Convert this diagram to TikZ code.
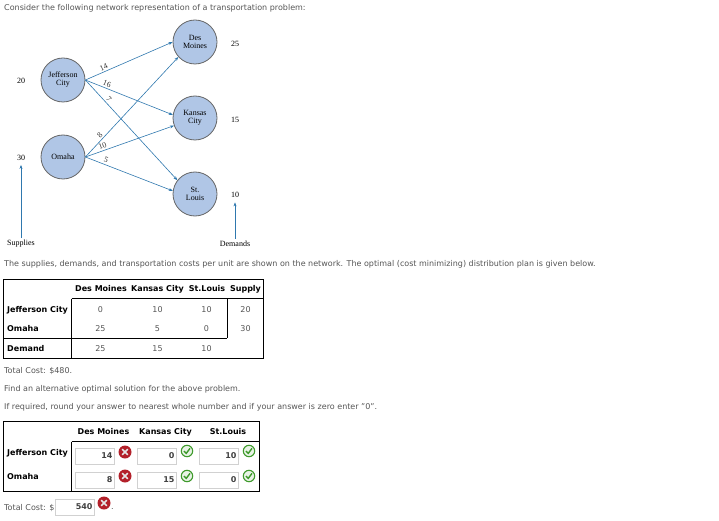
\documentclass[tikz,border=0pt]{standalone}
\usepackage{fontspec}
\usetikzlibrary{arrows.meta}
\setmainfont{DejaVu Sans}
\newfontfamily\netfont{Liberation Serif}
\definecolor{nodeblue}{HTML}{B0C6E6}
\definecolor{arcblue}{HTML}{2F78AE}
\definecolor{bodygrey}{HTML}{555555}
\definecolor{wrongred}{HTML}{B3202A}
\definecolor{rightgreen}{HTML}{3F9A2C}
\tikzset{
  city/.style={circle,draw=black!60,fill=nodeblue,line width=0.8pt,minimum size=44pt,inner sep=0pt,align=center,font=\netfont\fontsize{8}{8}\selectfont},
  amount/.style={font=\netfont\fontsize{8}{9}\selectfont,inner sep=1.5pt},
  route/.style={draw=arcblue,line width=0.6pt,-{Stealth[length=4pt,width=3pt]}},
  pointer/.style={route,shorten >=3pt},
  cost/.style={font=\netfont\fontsize{8}{9}\selectfont,inner sep=1.5pt,text=black!80,above,sloped},
  body/.style={anchor=west,inner sep=0pt,yshift=-1pt,text=bodygrey,font=\fontsize{8}{9}\selectfont},
  head/.style={inner sep=0pt,yshift=-1pt,font=\bfseries\fontsize{8}{9}\selectfont},
  rowname/.style={anchor=west,inner sep=0pt,yshift=-1pt,font=\bfseries\fontsize{8}{9}\selectfont},
  val/.style={inner sep=0pt,yshift=-1pt,text=bodygrey,font=\fontsize{8}{9}\selectfont},
  rule/.style={line width=0.9pt},
  inbox/.style={draw=black!18,line width=1pt,fill=white,minimum width=39pt,minimum height=16pt,inner sep=0pt,text width=35pt,align=right,text=black!75,font=\bfseries\fontsize{8}{9}\selectfont},
  wrongicon/.pic={
    \fill[wrongred] (0,0) circle (6.5pt);
    \draw[white!90!black,line width=1.7pt] (-2.8,-2.8) -- (2.8,2.8) (-2.8,2.8) -- (2.8,-2.8);
  },
  righticon/.pic={
    \draw[rightgreen,fill=rightgreen!12,line width=1.1pt] (0,0) circle (5.7pt);
    \draw[rightgreen,line width=1.4pt] (-3,0) -- (-0.8,2.4) -- (3,-2.6);
  }
}
\begin{document}
\begin{tikzpicture}[x=1pt,y=-1pt]
    \useasboundingbox (0,0) rectangle (719,521);
    % Opening text
    \node[body] (intro) at (4,7) {Consider the following network representation of a transportation problem:};
    % Sources and destinations
    \node[city] (jc) at (63,80) {Jefferson\\City};
    \node[city] (om) at (63,157) {Omaha};
    \node[city] (dm) at (195,42) {Des\\Moines};
    \node[city] (kc) at (195,118) {Kansas\\City};
    \node[city] (sl) at (195,194) {St.\\Louis};
    % Amounts
    \node[amount] (jcsup) at (21,80.5) {20};
    \node[amount] (omsup) at (21,157.5) {30};
    \node[amount] (dmdem) at (235,43.5) {25};
    \node[amount] (kcdem) at (235,119.5) {15};
    \node[amount] (sldem) at (235,195) {10};
    \node[amount] (supplies) at (21,243.5) {Supplies};
    \node[amount] (demands) at (235,243.5) {Demands};
    % Arcs
    \draw[route] (jc.0) -- node[cost,pos=.23] {14} (dm.180);
    \draw[route] (jc.0) -- node[cost,pos=.23] {16} (kc.172);
    \draw[route] (jc.0) -- node[cost,pos=.22] {7} (sl.142);
    \draw[route] (om.0) -- node[cost,pos=.19] {8} (dm.222);
    \draw[route] (om.0) -- node[cost,pos=.21] {10} (kc.200);
    \draw[route] (om.0) -- node[cost,pos=.22] {5} (sl.172);
    \draw[pointer] (supplies) -- (omsup);
    \draw[pointer] (demands) -- (sldem);
    % Second paragraph
    \node[body] (given) at (4,263) {The supplies, demands, and transportation costs per unit are shown on the network. The optimal (cost minimizing) distribution plan is given below.};
    % Optimal plan
    \draw[rule] (3,279) rectangle (263,358);
    \draw[rule] (71.5,298.5) -- (263,298.5);
    \draw[rule] (71.5,298.5) -- (71.5,358);
    \draw[rule] (227,298.5) -- (227,338);
    \draw[rule] (3,338) -- (227,338);
    \node[head] (plandm) at (101,288) {Des Moines};
    \node[head] (plankc) at (157.5,288) {Kansas City};
    \node[head] (plansl) at (207,288) {St.Louis};
    \node[head] (plansup) at (245.5,288) {Supply};
    \node[rowname] (planjc) at (7,309) {Jefferson City};
    \node[rowname] (planom) at (7,328) {Omaha};
    \node[rowname] (plandem) at (7,348) {Demand};
    \node[val] (jcdm) at (100.5,309) {0};
    \node[val] (jckc) at (157.5,309) {10};
    \node[val] (jcsl) at (206.5,309) {10};
    \node[val] (jcsu) at (245.5,309) {20};
    \node[val] (omdm) at (100.5,328) {25};
    \node[val] (omkc) at (157.5,328) {5};
    \node[val] (omsl) at (206.5,328) {0};
    \node[val] (omsu) at (245.5,328) {30};
    \node[val] (demdm) at (100.5,348) {25};
    \node[val] (demkc) at (157.5,348) {15};
    \node[val] (demsl) at (206.5,348) {10};
    % Questions
    \node[body] (cost) at (4,370) {Total Cost: \$480.};
    \node[body] (find) at (4,388) {Find an alternative optimal solution for the above problem.};
    \node[body] (round) at (4,406) {If required, round your answer to nearest whole number and if your answer is zero enter "0".};
    % Answer table
    \draw[rule] (3,421) rectangle (259,491);
    \draw[rule] (71.5,441.5) -- (259,441.5);
    \draw[rule] (71.5,441.5) -- (71.5,491);
    \node[head] (ansdm) at (103.5,431) {Des Moines};
    \node[head] (anskc) at (165.5,431) {Kansas City};
    \node[head] (anssl) at (228,431) {St.Louis};
    \node[rowname] (ansjc) at (7,452) {Jefferson City};
    \node[rowname] (ansom) at (7,476) {Omaha};
    \node[inbox] (boxjcdm) at (95,456) {14};
    \node[inbox] (boxjckc) at (157,456) {0};
    \node[inbox] (boxjcsl) at (219,456) {10};
    \node[inbox] (boxomdm) at (95,480) {8};
    \node[inbox] (boxomkc) at (157,480) {15};
    \node[inbox] (boxomsl) at (219,480) {0};
    % Marks
    \pic at (125,452) {wrongicon};
    \pic at (187,451) {righticon};
    \pic at (249,451) {righticon};
    \pic at (125,476) {wrongicon};
    \pic at (187,476) {righticon};
    \pic at (249,476) {righticon};
    % Total cost answer
    \node[body] (total) at (4,507) {Total Cost: \$};
    \node[inbox] (boxtotal) at (75,507) {540};
    \pic at (104,503) {wrongicon};
    \node[body] (stop) at (111,507.5) {.};
\end{tikzpicture}
\end{document}
